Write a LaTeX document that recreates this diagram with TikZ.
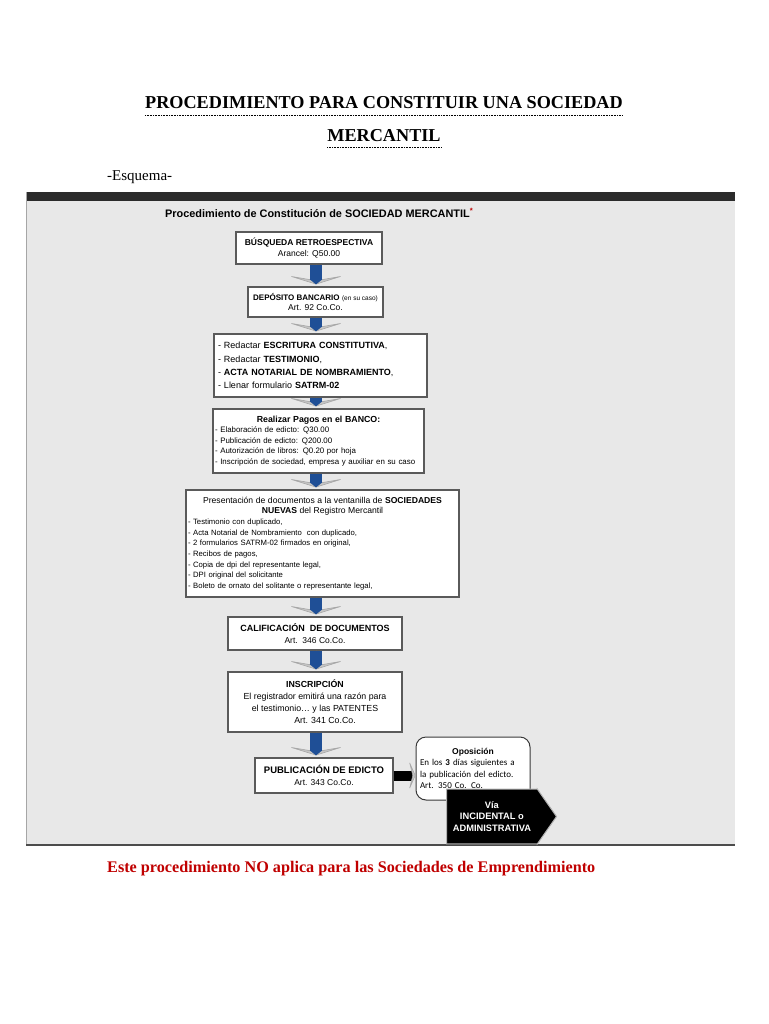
\documentclass[tikz,border=0pt]{standalone}
\usepackage{fontspec}
\setmainfont{Liberation Serif}
\setsansfont{Liberation Sans}
\newfontfamily\carlito{Carlito}
\usetikzlibrary{arrows.meta,shapes.arrows}
\definecolor{panelbg}{HTML}{E8E8E8}
\definecolor{topbar}{HTML}{2B2B2B}
\definecolor{arrblue}{HTML}{1F4F96}
\definecolor{boxline}{HTML}{5A5A5A}
\definecolor{darkred}{HTML}{C00000}
\tikzset{
  stepbox/.style={draw=boxline, line width=1.2pt, fill=white, inner sep=3pt,
    font=\sffamily\fontsize{8.5}{10.5}\selectfont, align=center},
  downarr/.style={
    preaction={draw=gray!60, line width=0.3pt,
      -{Stealth[length=9pt,width=58pt,inset=5pt,fill=gray!45,color=gray!70,line width=0.6pt]}},
    draw=arrblue, line width=12pt, shorten >=2pt,
    -{Triangle[length=5pt,width=12pt,color=arrblue,fill=arrblue]}},
  sidearr/.style={draw=black, line width=10pt,
    -{Stealth[length=7pt,width=32pt,inset=4pt,fill=gray!45,color=gray!70,line width=0.6pt]}},
  titletext/.style={inner sep=0pt, font=\bfseries\fontsize{18.2}{21}\selectfont},
  uline/.style={line width=0.7pt, dash pattern=on 0.8pt off 0.8pt},
}
\begin{document}
\begin{tikzpicture}[x=1pt,y=-1pt]
\useasboundingbox (0,0) rectangle (768,1024);
\fill[white] (0,0) rectangle (768,1024);

% headings
\node[titletext, anchor=base] (t1) at (384,109) {PROCEDIMIENTO PARA CONSTITUIR UNA SOCIEDAD};
\node[titletext, anchor=base] (t2) at (384,141.5) {MERCANTIL};
\draw[uline] ([yshift=-6pt]t1.base west) -- ([yshift=-6pt]t1.base east);
\draw[uline] ([yshift=-6pt]t2.base west) -- ([yshift=-6pt]t2.base east);
\node[inner sep=0pt, anchor=base west, font=\fontsize{15}{18}\selectfont] (esq) at (107,181) {-Esquema-};

% panel
\fill[panelbg] (26,192) rectangle (735,845);
\fill[topbar] (26,192) rectangle (735,201);
\draw[gray!70, line width=0.6pt] (26,192) -- (26,845);
\draw[gray!60!black, line width=1.6pt] (26,845) -- (735,845);
\node[inner sep=0pt, anchor=base west, font=\sffamily\bfseries\fontsize{10.9}{12}\selectfont] (pt) at (165,217.5)
  {Procedimiento de Constitución de SOCIEDAD MERCANTIL\textcolor{red!75!black}{\textsuperscript{*}}};

\coordinate (ax) at (316,0);

% boxes
\node[stepbox, minimum width=146, minimum height=32] (b1) at (309,248)
  {{\bfseries\fontsize{8.5}{12}\selectfont BÚSQUEDA RETROESPECTIVA}\\Arancel: Q50.00};
\node[stepbox, minimum width=135, minimum height=30] (b2) at (315.5,302)
  {{\bfseries\fontsize{8}{12}\selectfont DEPÓSITO BANCARIO} {\fontsize{6.5}{8}\selectfont(en su caso)}\\Art. 92 Co.Co.};
\node[stepbox, minimum width=213, minimum height=63, text width=205, align=left,
      font=\sffamily\fontsize{9}{13.3}\selectfont] (b3) at (320.5,365.5)
  {- Redactar \textbf{ESCRITURA CONSTITUTIVA},\\
   - Redactar \textbf{TESTIMONIO},\\
   - \textbf{ACTA NOTARIAL DE NOMBRAMIENTO},\\
   - Llenar formulario \textbf{SATRM-02}};
\node[stepbox, minimum width=211, minimum height=64, text width=207, align=left, inner sep=2pt,
      font=\sffamily\fontsize{7.9}{10.5}\selectfont] (b4) at (318.5,441)
  {\makebox[207pt][c]{\bfseries\fontsize{8.8}{10}\selectfont Realizar Pagos en el BANCO:}\\
   - Elaboración de edicto: Q30.00\\
   - Publicación de edicto: Q200.00\\
   - Autorización de libros: Q0.20 por hoja\\
   - Inscripción de sociedad, empresa y auxiliar en su caso};
\node[stepbox, minimum width=273, minimum height=107, text width=269, align=left, inner sep=2pt,
      font=\sffamily\fontsize{7.7}{10.7}\selectfont] (b5) at (322.5,543.5)
  {\makebox[269pt][c]{\fontsize{8.6}{12}\selectfont Presentación de documentos a la ventanilla de \textbf{SOCIEDADES}}\\
   \makebox[269pt][c]{\fontsize{8.6}{12}\selectfont \textbf{NUEVAS} del Registro Mercantil}\\
   - Testimonio con duplicado,\\
   - Acta Notarial de Nombramiento\ \ con duplicado,\\
   - 2 formularios SATRM-02 firmados en original,\\
   - Recibos de pagos,\\
   - Copia de dpi del representante legal,\\
   - DPI original del solicitante\\
   - Boleto de ornato del solitante o representante legal,};
\node[stepbox, minimum width=174, minimum height=33, font=\sffamily\fontsize{8.5}{11.5}\selectfont] (b6) at (315,633.5)
  {{\bfseries\fontsize{9}{11.5}\selectfont CALIFICACIÓN\ \ DE DOCUMENTOS}\\Art.\ \ 346 Co.Co.};
\node[stepbox, minimum width=174, minimum height=60, font=\sffamily\fontsize{8.8}{12}\selectfont] (b7) at (315,702)
  {\textbf{INSCRIPCIÓN}\\El registrador emitirá una razón para\\el testimonio… y las PATENTES\\\hspace*{20pt}Art. 341 Co.Co.};
\node[stepbox, minimum width=138, minimum height=35, font=\sffamily\fontsize{8.5}{11.5}\selectfont] (b8) at (324,775.5)
  {{\bfseries\fontsize{9.5}{11.5}\selectfont PUBLICACIÓN DE EDICTO}\\Art. 343 Co.Co.};

% opposition
\node[draw=gray!45!black, line width=1pt, fill=white, rounded corners=10pt,
      minimum width=114, minimum height=63, text width=106, align=left, inner sep=4pt,
      font=\carlito\fontsize{9}{11.5}\selectfont] (op) at (473,768.5)
  {\makebox[106pt][c]{\sffamily\bfseries\fontsize{8.5}{11}\selectfont Oposición}\\
   En los \textbf{3} días siguientes a\\
   la publicación del edicto.\\
   Art. 350 Co. Co.};

% via arrow
\node[single arrow, single arrow head extend=0.1pt, single arrow tip angle=110,
      minimum height=110, minimum width=55, fill=black, draw=gray!60, line width=1pt,
      inner sep=1pt, anchor=tail, text=white, align=center,
      font=\sffamily\bfseries\fontsize{9.3}{11.5}\selectfont] (via) at (446,816.5)
  {Vía\\INCIDENTAL o\\ADMINISTRATIVA};

% connectors
\draw[downarr] (b1.south -| ax) -- (b2.north -| ax);
\draw[downarr] (b2.south -| ax) -- (b3.north -| ax);
\draw[downarr] (b3.south -| ax) -- (b4.north -| ax);
\draw[downarr] (b4.south -| ax) -- (b5.north -| ax);
\draw[downarr] (b5.south -| ax) -- (b6.north -| ax);
\draw[downarr] (b6.south -| ax) -- (b7.north -| ax);
\draw[downarr] (b7.south -| ax) -- (b8.north -| ax);
\draw[sidearr] (b8.east) -- (b8.east -| op.west);

% footer
\node[inner sep=0pt, anchor=base west, text=darkred, font=\bfseries\fontsize{16.2}{19}\selectfont] (foot) at (107,872)
  {Este procedimiento NO aplica para las Sociedades de Emprendimiento};
\end{tikzpicture}
\end{document}
